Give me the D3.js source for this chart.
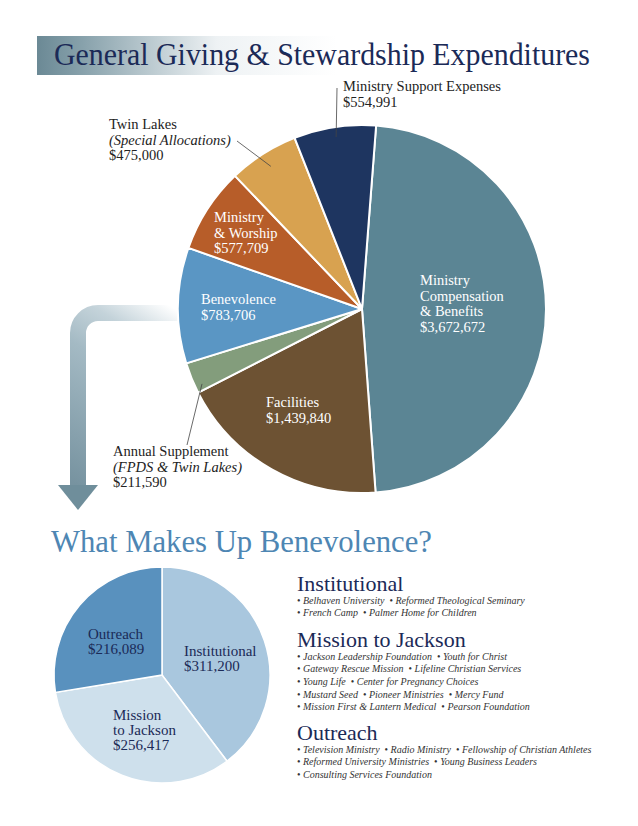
<!DOCTYPE html>
<html>
<head>
<meta charset="utf-8">
<title>General Giving &amp; Stewardship Expenditures</title>
<script src="https://d3js.org/d3.v7.min.js"></script>
<style>
    body { margin: 0; background: #fff; }
    svg text { font-family: "Liberation Serif", "DejaVu Serif", serif; }
</style>
</head>
<body>
<svg id="chart" width="638" height="826"></svg>
<script>
// ---- data ----
const expenseNames = ['Ministry Compensation & Benefits', 'Facilities', 'Annual Supplement', 'Benevolence',
    'Ministry & Worship', 'Twin Lakes', 'Ministry Support Expenses'];
const expenseValues = [3672672, 1439840, 211590, 783706, 577709, 475000, 554991];
const expenseLabelLines = [
    ['Ministry', 'Compensation', '& Benefits'],
    ['Facilities'],
    ['Annual Supplement', '(FPDS & Twin Lakes)'],
    ['Benevolence'],
    ['Ministry', '& Worship'],
    ['Twin Lakes', '(Special Allocations)'],
    ['Ministry Support Expenses']
];

const benevolenceNames = ['Institutional', 'Mission to Jackson', 'Outreach'];
const benevolenceValues = [311200, 256417, 216089];
const benevolenceLabelLines = [['Institutional'], ['Mission', 'to Jackson'], ['Outreach']];
const benevolenceMembers = [
    [['Belhaven University', 'Reformed Theological Seminary'],
     ['French Camp', 'Palmer Home for Children']],
    [['Jackson Leadership Foundation', 'Youth for Christ'],
     ['Gateway Rescue Mission', 'Lifeline Christian Services'],
     ['Young Life', 'Center for Pregnancy Choices'],
     ['Mustard Seed', 'Pioneer Ministries', 'Mercy Fund'],
     ['Mission First & Lantern Medical', 'Pearson Foundation']],
    [['Television Ministry', 'Radio Ministry', 'Fellowship of Christian Athletes'],
     ['Reformed University Ministries', 'Young Business Leaders'],
     ['Consulting Services Foundation']]
];

const titleText = 'General Giving & Stewardship Expenditures';
const subtitleText = 'What Makes Up Benevolence?';

// ---- styles & layout ----
const navy = '#1b2a57';
const expenseColors = ['#5b8594', '#6d5233', '#839d7c', '#5a96c4', '#b75d29', '#d8a250', '#1e3560'];
const benevolenceColors = ['#a9c7de', '#cee0ec', '#5991be'];
const money = d3.format('$,');

// label anchors relative to the pie centre: [dx, dy of first baseline, light text?]
const expenseLabelPos = [[58, -24, true], [-96, 98, true], [-249, 147, false], [-161, -5, true],
    [-148, -87, true], [-253, -180, false], [-19, -218, false]];
// leader lines: [label end dx, dy, fraction along slice, radius fraction]
const expenseLeaders = [null, null, [-175, 136, 0.2, 0.96], null, null, [-125, -168, 0.5, 0.92], [-25, -221, 0.5, 0.945]];
const benevolenceLabelPos = [[22, -19], [-49, 45], [-74, -36]];

const svg = d3.select('#chart');
const defs = svg.append('defs');

// ---- title band ----
const tg = defs.append('linearGradient').attr('id', 'titleGrad');
tg.append('stop').attr('offset', '0%').attr('stop-color', '#6b8995');
tg.append('stop').attr('offset', '15%').attr('stop-color', '#87a1ab');
tg.append('stop').attr('offset', '60%').attr('stop-color', '#eef2f4');
tg.append('stop').attr('offset', '100%').attr('stop-color', '#ffffff');
svg.append('rect').attr('x', 37).attr('y', 36).attr('width', 300).attr('height', 39)
    .attr('fill', 'url(#titleGrad)');
svg.append('text').attr('x', 54).attr('y', 65).attr('font-size', 31).attr('fill', navy)
    .attr('textLength', 536).attr('lengthAdjust', 'spacingAndGlyphs').text(titleText);

// ---- arrow ----
const ag = defs.append('linearGradient').attr('id', 'arrowGrad').attr('gradientUnits', 'userSpaceOnUse')
    .attr('x1', 78).attr('y1', 486).attr('x2', 182).attr('y2', 313);
ag.append('stop').attr('offset', '0').attr('stop-color', '#7793a0');
ag.append('stop').attr('offset', '0.6').attr('stop-color', '#a4bac4');
ag.append('stop').attr('offset', '0.8').attr('stop-color', '#c4d3da');
ag.append('stop').attr('offset', '1').attr('stop-color', '#ffffff');
svg.append('path').attr('d', 'M182,313 H98 A20,20 0 0 0 78,333 V486')
    .attr('fill', 'none').attr('stroke', 'url(#arrowGrad)').attr('stroke-width', 16);
svg.append('path').attr('d', 'M58,485 L98,485 L78,510 Z').attr('fill', '#6f8e9b');

// ---- main pie ----
const cx = 362, cy = 309, r = 184;
const a0 = 4.4 * Math.PI / 180;
const mainPie = d3.pie().sort(null).startAngle(a0).endAngle(a0 + 2 * Math.PI);
const mainArc = d3.arc().innerRadius(0).outerRadius(r);
const mainSlices = mainPie(expenseValues);
const g = svg.append('g').attr('transform', `translate(${cx},${cy})`);

g.selectAll('path.slice').data(mainSlices).join('path')
    .attr('class', 'slice')
    .attr('d', mainArc)
    .attr('fill', (d, i) => expenseColors[i])
    .attr('stroke', '#fff').attr('stroke-width', 2).attr('stroke-linejoin', 'round');

mainSlices.forEach((d, i) => {
    const ld = expenseLeaders[i];
    if (!ld) return;
    const ang = d.startAngle + ld[2] * (d.endAngle - d.startAngle);
    g.append('line')
        .attr('x1', ld[0]).attr('y1', ld[1])
        .attr('x2', Math.sin(ang) * r * ld[3]).attr('y2', -Math.cos(ang) * r * ld[3])
        .attr('stroke', '#444').attr('stroke-width', 0.8);
});

mainSlices.forEach((d, i) => {
    const p = expenseLabelPos[i];
    const lines = expenseLabelLines[i].concat([money(expenseValues[i])]);
    const t = g.append('text').attr('x', p[0]).attr('y', p[1])
        .attr('font-size', 14.5).attr('fill', p[2] ? '#ffffff' : '#222');
    lines.forEach((s, k) => {
        t.append('tspan').attr('x', p[0]).attr('dy', k ? 15.6 : 0)
            .attr('font-style', s.startsWith('(') ? 'italic' : null)
            .text(s);
    });
});

// ---- subtitle ----
svg.append('text').attr('x', 51).attr('y', 552).attr('font-size', 31).attr('fill', '#4e86b3')
    .attr('textLength', 381).attr('lengthAdjust', 'spacingAndGlyphs').text(subtitleText);

// ---- benevolence pie ----
const bx = 162, by = 675, br = 108;
const benPie = d3.pie().sort(null);
const benArc = d3.arc().innerRadius(0).outerRadius(br);
const benSlices = benPie(benevolenceValues);
const bg = svg.append('g').attr('transform', `translate(${bx},${by})`);
bg.selectAll('path').data(benSlices).join('path')
    .attr('d', benArc)
    .attr('fill', (d, i) => benevolenceColors[i])
    .attr('stroke', '#fff').attr('stroke-width', 1.5);

benSlices.forEach((d, i) => {
    const p = benevolenceLabelPos[i];
    const lines = benevolenceLabelLines[i].concat([money(benevolenceValues[i])]);
    const t = bg.append('text').attr('x', p[0]).attr('y', p[1]).attr('font-size', 15).attr('fill', navy);
    lines.forEach((s, k) => {
        t.append('tspan').attr('x', p[0]).attr('dy', k ? 15 : 0).text(s);
    });
});

// ---- member lists ----
const listX = 297;
const headerY = [591, 647, 740];
benevolenceNames.forEach((name, i) => {
    svg.append('text').attr('x', listX).attr('y', headerY[i]).attr('font-size', 22).attr('fill', navy).text(name);
    benevolenceMembers[i].forEach((row, k) => {
        const t = svg.append('text').attr('x', listX).attr('y', headerY[i] + 12.5 + k * 12.7)
            .attr('font-size', 10).attr('font-style', 'italic').attr('fill', '#333');
        row.forEach((m, j) => {
            t.append('tspan').attr('font-style', 'normal').attr('dx', j ? 5 : 0).text('• ');
            t.append('tspan').text(m);
        });
    });
});
</script>
</body>
</html>
